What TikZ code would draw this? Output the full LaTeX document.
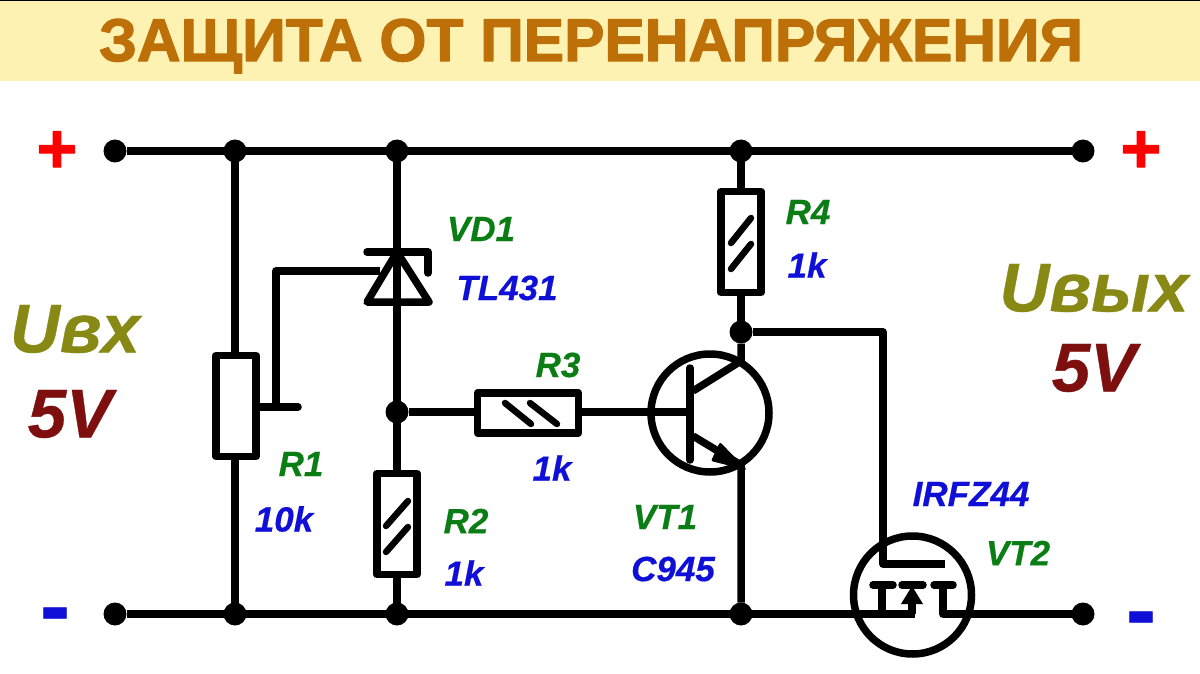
\documentclass[tikz,border=0pt]{standalone}
\usepackage{fontspec}
\setmainfont{Liberation Sans}[BoldFeatures={FakeBold=0.5},BoldItalicFeatures={FakeBold=0.5}]
\newfontfamily\titlefont{Liberation Sans}[BoldFeatures={FakeBold=2}]
\newfontfamily\signfont{Liberation Sans}[BoldFeatures={FakeBold=1.5}]
\usetikzlibrary{positioning,calc}
\definecolor{titlebg}{RGB}{253,242,178}
\definecolor{titletext}{RGB}{190,112,8}
\definecolor{refgreen}{RGB}{10,125,20}
\definecolor{valblue}{RGB}{15,15,215}
\definecolor{volt}{RGB}{136,136,20}
\definecolor{fivev}{RGB}{125,15,15}
\begin{document}
\begin{tikzpicture}[x=1pt, y=-1pt, line width=7.5pt, line join=round]
        \tikzset{
            dot/.style={circle,fill=black,draw=none,inner sep=0pt,outer sep=0pt,minimum size=23pt},
            resv/.style={rectangle,draw=black,fill=white,inner sep=0pt,outer sep=0pt,minimum width=40pt,minimum height=101pt},
            resh/.style={rectangle,draw=black,fill=white,inner sep=0pt,outer sep=0pt,minimum width=101pt,minimum height=40pt},
            ring/.style={circle,draw=black,inner sep=0pt,outer sep=0pt,minimum size=118pt},
            slash/.style={line width=6.5pt,line cap=round},
            reflabel/.style={text=refgreen,font=\fontsize{35}{35}\selectfont\bfseries\itshape},
            vallabel/.style={text=valblue,font=\fontsize{35}{35}\selectfont\bfseries\itshape},
            biglabel/.style={font=\fontsize{69}{69}\selectfont\bfseries\itshape},
            plussign/.style={text=red,font=\signfont\fontsize{70}{70}\selectfont\bfseries},
            minussign/.style={text=valblue,font=\fontsize{90}{90}\selectfont\bfseries}
        }
        \useasboundingbox (0,0) rectangle (1200,674);
        \fill[white] (0,0) rectangle (1200,674);
        \fill[black] (0,0) rectangle (1200,1);
        \fill[titlebg] (0,1) rectangle (1200,81);
        \node[text=titletext,font=\titlefont\fontsize{60.5}{61}\selectfont\bfseries] (title) at (591,46) {ЗАЩИТА ОТ ПЕРЕНАПРЯЖЕНИЯ};

        % rails
        \node[dot] (Tl) at (115,151) {};
        \node[dot] (Ta) at (235,151) {};
        \node[dot] (Tb) at (397,151) {};
        \node[dot] (Tc) at (741,151) {};
        \node[dot] (Tr) at (1083,151) {};
        \node[dot] (Bl) at (115,614) {};
        \node[dot] (Ba) at (235,614) {};
        \node[dot] (Bb) at (397,614) {};
        \node[dot] (Bc) at (741,614) {};
        \node[dot] (Br) at (1083,614) {};
        \node[dot] (J) at (397,412) {};
        \node[dot] (K) at (741,332) {};
        \coordinate (Ga) at (882,614);
        \coordinate (Sr) at (943,614);
        \draw (Tl) -- (Tr);
        \draw (Bl) -- (Ga);

        % resistors
        \draw (Ta) -- (Ba);
        \draw (Tb) -- (Bb);
        \draw (Tc) -- (K);
        \node[resv] (R1) at (236,406) {};
        \node[resv] (R2) at (397,524) {};
        \node[resv] (R4) at (741,242) {};
        \node[resh] (R3) at (528,413) {};
        \draw[slash] (386,526) -- (408,501) (386,552) -- (408,527);
        \draw[slash] (731,243) -- (751,218) (731,269) -- (751,244);
        \draw[slash] (505,403) -- (531,424) (530,403) -- (557,424);

        % wiper and diode
        \coordinate (W) at (298,407);
        \draw[line cap=round] (R1.east |- W) -- (W);
        \coordinate (DG) at (380,271);
        \draw (276,407) -- (276,271) -- (DG);
        \draw (367,302) -- (397,252) -- (429,302) -- cycle;
        \draw[line cap=round] (367,252) -- (428,252) -- (428,273);

        % transistor VT1
        \coordinate (BB) at (690,412);
        \node[ring] (VT1) at (710,413) {};
        \draw (J) -- (R3.west |- J);
        \draw (R3.east |- BB) -- (BB);
        \draw[line cap=round] (690,368) -- (690,460);
        \draw (693,391) -- (741,361) -- (K);
        \draw (693,436) -- (741,465) -- (Bc);
        \fill[rounded corners=2pt] (747,470) -- (711,461) -- (720,442) -- cycle;

        % transistor VT2
        \node[ring] (VT2) at (912.5,595) {};
        \draw (K) -- (883,332) -- (883,564) -- (945,564);
        \draw[line cap=round] (873,585) -- (893,585) (902,585) -- (923,585) (934,585) -- (953,585);
        \draw (Ga) -- (882,585);
        \draw (Ga) -- (915,614);
        \draw (912,614) -- (912,598);
        \fill (912,586) -- (923,604) -- (901,604) -- cycle;
        \draw (943,585) -- (Sr) -- (Br);

        % labels
        \node[plussign] (pL) at (57,152) {+};
        \node[plussign] (pR) at (1141,152) {+};
        \node[minussign] (mL) at (55,622) {-};
        \node[minussign] (mR) at (1141,626) {-};
        \node[biglabel,text=volt] (Uin) at (75,329) {Uвх};
        \node[biglabel,text=fivev] (Vin) at (70,414) {5V};
        \node[biglabel,text=volt] (Uout) at (1094,288) {Uвых};
        \node[biglabel,text=fivev] (Vout) at (1094,368) {5V};
        \node[reflabel] (lR1) at (301,464) {R1};
        \node[vallabel] (vR1) at (284,519) {10k};
        \node[reflabel] (lR2) at (466,521) {R2};
        \node[vallabel] (vR2) at (464,573) {1k};
        \node[reflabel] (lR3) at (558,365) {R3};
        \node[vallabel] (vR3) at (552,468) {1k};
        \node[reflabel] (lR4) at (808,212) {R4};
        \node[vallabel] (vR4) at (807,265) {1k};
        \node[reflabel] (lVD) at (481,229) {VD1};
        \node[vallabel] (vVD) at (507,288) {TL431};
        \node[reflabel] (lVT1) at (665,517) {VT1};
        \node[vallabel] (vVT1) at (673,569) {C945};
        \node[vallabel] (vVT2) at (971,494) {IRFZ44};
        \node[reflabel] (lVT2) at (1018,553) {VT2};
    \end{tikzpicture}
\end{document}
